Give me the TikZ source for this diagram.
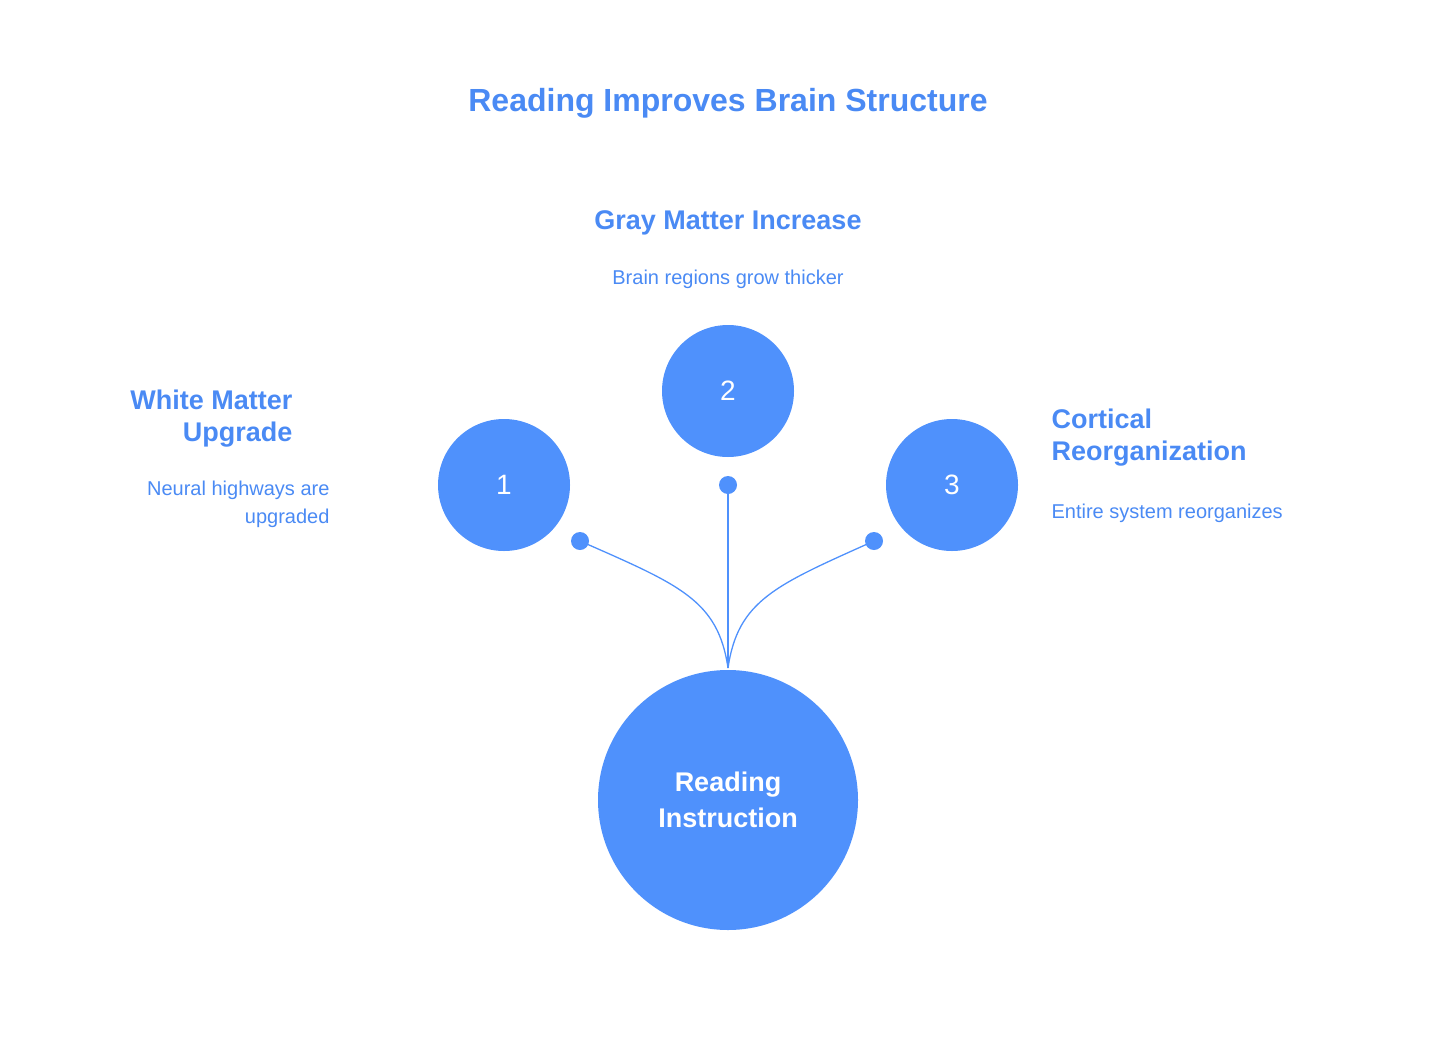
\documentclass[tikz,border=0pt]{standalone}
\usepackage{fontspec}
\setmainfont{Liberation Sans}
\definecolor{bl}{HTML}{4F91FC}
\definecolor{tx}{HTML}{4A8AF4}
\begin{document}
\begin{tikzpicture}[x=1pt,y=-1pt,
  circ/.style={circle,fill=bl,text=white,inner sep=0pt},
  dotn/.style={circle,fill=bl,minimum size=18pt,inner sep=0pt},
  head/.style={text=tx,font=\bfseries\fontsize{27}{32}\selectfont},
  desc/.style={text=tx,font=\fontsize{20}{28}\selectfont},
  conn/.style={draw=bl,line width=1.3pt}]
\useasboundingbox (0,0) rectangle (1456,1044);
\node[text=tx,font=\bfseries\fontsize{32}{38}\selectfont] (title) at (728,103) {Reading Improves Brain Structure};
\node[circ,minimum size=260pt,align=center,font=\bfseries\fontsize{27}{36}\selectfont] (main) at (728,800) {Reading\\Instruction};
\node[circ,minimum size=132pt,font=\fontsize{28}{32}\selectfont] (c1) at (504,485) {1};
\node[circ,minimum size=132pt,font=\fontsize{28}{32}\selectfont] (c2) at (728,391) {2};
\node[circ,minimum size=132pt,font=\fontsize{28}{32}\selectfont] (c3) at (952,485) {3};
\node[dotn] (d1) at (580,541) {};
\node[dotn] (d2) at (728,485) {};
\node[dotn] (d3) at (874,541) {};
\coordinate (top) at (728,668);
\draw[conn] (top) .. controls (718,600) and (680,585) .. (d1.center);
\draw[conn] (top) -- (d2.center);
\draw[conn] (top) .. controls (738,600) and (776,585) .. (d3.center);
\node[head] (h2) at (728,223) {Gray Matter Increase};
\node[desc] (t2) at (728,279) {Brain regions grow thicker};
\node[head,anchor=east,align=right] (h1) at (296,419) {White Matter\\Upgrade};
\node[desc,anchor=east,align=right] (t1) at (333,504) {Neural highways are\\upgraded};
\node[head,anchor=west,align=left] (h3) at (1048,438) {Cortical\\Reorganization};
\node[desc,anchor=west] (t3) at (1048,513) {Entire system reorganizes};
\end{tikzpicture}
\end{document}
